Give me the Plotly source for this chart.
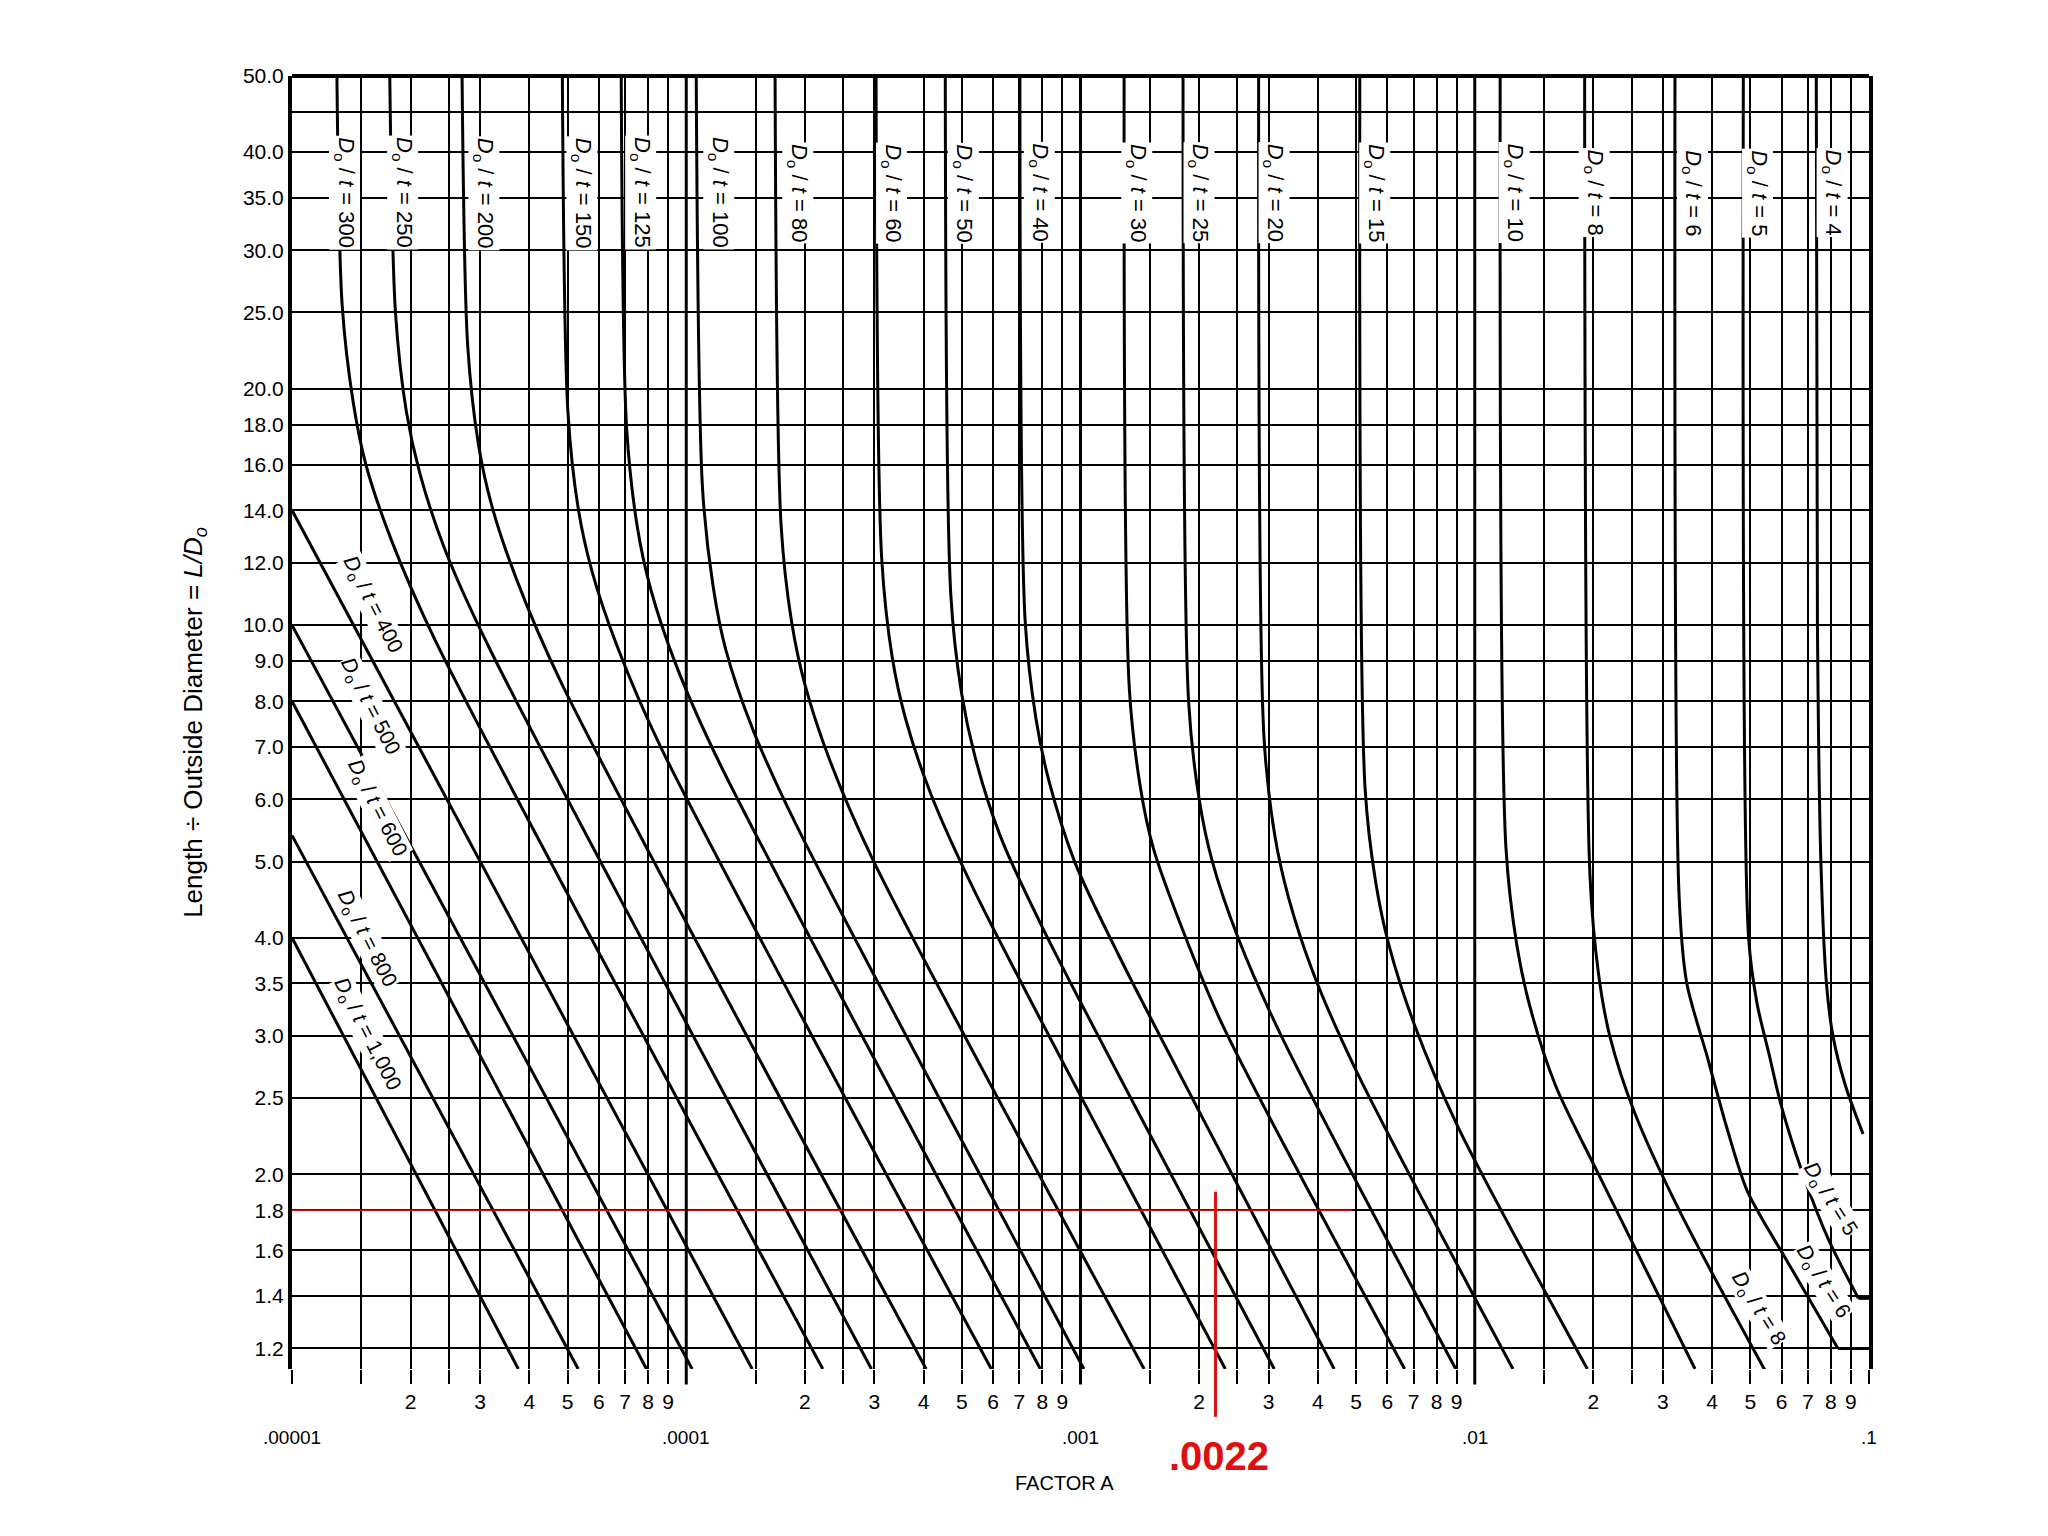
import math

import plotly.graph_objects as go

# ---- curve data: Factor A vs L/Do for each Do/t ----
a_300 = [1.30e-5, 1.34e-5, 1.43e-5, 1.54e-5, 1.79e-5, 2.30e-5, 2.22e-4]
ld_300 = [50, 25.6, 19.2, 16.0, 12.8, 9.6, 1.13]
a_250 = [1.77e-5, 1.83e-5, 1.95e-5, 2.11e-5, 2.44e-5, 3.15e-5, 2.95e-4]
ld_250 = [50, 25.0, 18.7, 15.6, 12.5, 9.4, 1.13]
a_200 = [2.70e-5, 2.79e-5, 2.97e-5, 3.21e-5, 3.72e-5, 4.79e-5, 4.06e-4]
ld_200 = [50, 22.7, 17.0, 14.2, 11.4, 8.5, 1.13]
a_150 = [4.85e-5, 5.01e-5, 5.33e-5, 5.77e-5, 6.68e-5, 8.61e-5, 5.94e-4]
ld_150 = [50, 18.7, 14.0, 11.7, 9.4, 7.0, 1.13]
a_125 = [6.84e-5, 7.06e-5, 7.52e-5, 8.13e-5, 9.42e-5, 1.21e-4, 7.91e-4]
ld_125 = [50, 17.8, 13.3, 11.1, 8.9, 6.7, 1.13]
a_100 = [1.06e-4, 1.10e-4, 1.17e-4, 1.26e-4, 1.47e-4, 1.89e-4, 1.02e-3]
ld_100 = [50, 14.9, 11.2, 9.3, 7.4, 5.6, 1.13]
a_80 = [1.68e-4, 1.74e-4, 1.85e-4, 2.00e-4, 2.32e-4, 2.99e-4, 1.45e-3]
ld_80 = [50, 13.4, 10.1, 8.4, 6.7, 5.0, 1.13]
a_60 = [3.03e-4, 3.13e-4, 3.33e-4, 3.60e-4, 4.17e-4, 5.37e-4, 2.33e-3]
ld_60 = [50, 12.2, 9.1, 7.6, 6.1, 4.6, 1.13]
a_50 = [4.54e-4, 4.69e-4, 4.99e-4, 5.40e-4, 6.25e-4, 8.05e-4, 3.10e-3]
ld_50 = [50, 10.9, 8.2, 6.8, 5.4, 4.1, 1.13]
a_40 = [7.02e-4, 7.24e-4, 7.71e-4, 8.34e-4, 9.66e-4, 1.25e-3, 4.40e-3]
ld_40 = [50, 10.1, 7.6, 6.3, 5.0, 3.8, 1.13]
a_30 = [1.29e-3, 1.33e-3, 1.42e-3, 1.53e-3, 1.78e-3, 2.29e-3, 6.64e-3]
ld_30 = [50, 8.3, 6.2, 5.2, 4.2, 3.1, 1.13]
a_25 = [1.82e-3, 1.88e-3, 2.00e-3, 2.16e-3, 2.51e-3, 3.23e-3, 8.95e-3]
ld_25 = [50, 8.0, 6.0, 5.0, 4.0, 3.0, 1.13]
a_20 = [2.83e-3, 2.92e-3, 3.11e-3, 3.37e-3, 3.90e-3, 5.02e-3, 1.25e-2]
ld_20 = [50, 7.2, 5.4, 4.5, 3.6, 2.7, 1.13]
a_15 = [5.11e-3, 5.27e-3, 5.61e-3, 6.07e-3, 7.03e-3, 9.06e-3, 1.93e-2]
ld_15 = [50, 6.2, 4.7, 3.9, 3.1, 2.3, 1.13]
a_10 = [1.16e-2, 1.20e-2, 1.28e-2, 1.38e-2, 1.60e-2, 2.06e-2, 3.62e-2]
ld_10 = [50, 5.2, 3.9, 3.27, 2.6, 2.0, 1.13]
a_8 = [0.0190, 0.0196, 0.0206, 0.0220, 0.0254, 0.0330, 0.0553]
ld_8 = [50, 4.8, 3.6, 3.0, 2.4, 1.8, 1.11]
a_6 = [0.0322, 0.0330, 0.0345, 0.0389, 0.0435, 0.0492, 0.0620, 0.0834]
ld_6 = [50, 4.5, 3.5, 2.82, 2.3, 1.90, 1.55, 1.20]
a_5 = [0.0480, 0.0495, 0.0520, 0.0560, 0.0597, 0.0680, 0.0790, 0.0940]
ld_5 = [50, 4.0, 3.3, 2.82, 2.46, 2.0, 1.65, 1.39]
a_4 = [0.0735, 0.0740, 0.0755, 0.0780, 0.0810, 0.0870, 0.0966]
ld_4 = [50, 10, 5.0, 3.5, 3.0, 2.6, 2.25]
# short flat tails of Do/t = 6 and 5 running into the right edge
a_tail_6 = [0.0834, 0.100]
ld_tail_6 = [1.20, 1.20]
a_tail_5 = [0.0940, 0.100]
ld_tail_5 = [1.39, 1.39]
# thin-wall lines entering from the left edge
a_400 = [1e-5, 1.47e-4]
ld_400 = [14.0, 1.13]
a_500 = [1e-5, 1.035e-4]
ld_500 = [10.0, 1.13]
a_600 = [1e-5, 7.93e-5]
ld_600 = [8.0, 1.13]
a_800 = [1e-5, 5.32e-5]
ld_800 = [5.4, 1.13]
a_1000 = [1e-5, 3.75e-5]
ld_1000 = [4.0, 1.13]

curves = [(a_300, ld_300), (a_250, ld_250), (a_200, ld_200), (a_150, ld_150),
          (a_125, ld_125), (a_100, ld_100), (a_80, ld_80), (a_60, ld_60),
          (a_50, ld_50), (a_40, ld_40), (a_30, ld_30), (a_25, ld_25),
          (a_20, ld_20), (a_15, ld_15), (a_10, ld_10), (a_8, ld_8),
          (a_6, ld_6), (a_5, ld_5), (a_4, ld_4)]
lines = [(a_400, ld_400), (a_500, ld_500), (a_600, ld_600), (a_800, ld_800), (a_1000, ld_1000),
         (a_tail_6, ld_tail_6), (a_tail_5, ld_tail_5)]

# label positions (Factor A) of the vertical labels
top_ratios = ['300', '250', '200', '150', '125', '100', '80', '60', '50', '40',
              '30', '25', '20', '15', '10', '8', '6', '5', '4']
top_label_a = [1.36e-5, 1.91e-5, 3.07e-5, 5.44e-5, 7.67e-5, 1.21e-4, 1.92e-4, 3.32e-4,
               5.05e-4, 7.87e-4, 1.39e-3, 2.0e-3, 3.10e-3, 5.58e-3, 1.26e-2, 2.01e-2,
               3.57e-2, 5.22e-2, 8.07e-2]
slope_ratios = ['400', '500', '600', '800', '1,000', '5', '6', '8']
slope_label_a = [1.60e-5, 1.58e-5, 1.64e-5, 1.55e-5, 1.55e-5, 0.0796, 0.0766, 0.0522]
slope_label_ld = [10.6, 7.87, 5.85, 3.99, 3.02, 1.86, 1.46, 1.35]

y_grid = [1.2, 1.4, 1.6, 1.8, 2.0, 2.5, 3.0, 3.5, 4.0, 5.0, 6.0, 7.0, 8.0, 9.0, 10.0,
          12.0, 14.0, 16.0, 18.0, 20.0, 25.0, 30.0, 35.0, 40.0, 45.0, 50.0]
x_steps = [1, 1.5, 2, 2.5, 3, 4, 5, 6, 7, 8, 9]
decades = [1e-5, 1e-4, 1e-3, 1e-2, 1e-1]
decade_text = ['.00001', '.0001', '.001', '.01', '.1']

example_a = 0.0022
example_ld = 1.8

FONT = 'Liberation Sans, Arial, sans-serif'

fig = go.Figure()
for a, ld in curves:
    fig.add_trace(go.Scatter(x=a, y=ld, mode='lines', line=dict(color='black', width=3, shape='spline', smoothing=0.8),
                             hoverinfo='skip', showlegend=False))
for a, ld in lines:
    fig.add_trace(go.Scatter(x=a, y=ld, mode='lines', line=dict(color='black', width=3),
                             hoverinfo='skip', showlegend=False))

# red example lines
fig.add_trace(go.Scatter(x=[1e-5, 0.0049], y=[example_ld, example_ld], mode='lines',
                         line=dict(color='#d01010', width=1.5), hoverinfo='skip', showlegend=False))
fig.add_shape(type='line', xref='x', yref='paper', x0=example_a, x1=example_a, y0=-0.037,
              y1=(math.log10(1.9) - math.log10(1.13)) / (math.log10(50) - math.log10(1.13)),
              line=dict(color='#e01010', width=3))

label = '<i>D</i><sub>o</sub> / <i>t</i> = '
for r, a in zip(top_ratios, top_label_a):
    fig.add_annotation(x=math.log10(a), y=math.log10(35.5), text=label + r, textangle=90, showarrow=False,
                       font=dict(family=FONT, size=22, color='black'), bgcolor='white', borderpad=1)
for i, (r, a, ld) in enumerate(zip(slope_ratios, slope_label_a, slope_label_ld)):
    fig.add_annotation(x=math.log10(a), y=math.log10(ld), text=label + r, textangle=63 if i < 5 else 58,
                       showarrow=False, font=dict(family=FONT, size=21, color='black'), bgcolor='white', borderpad=0)

# decade labels and titles
for d, t in zip(decades, decade_text):
    fig.add_annotation(x=math.log10(d), y=-0.053, yref='paper', yanchor='middle', text=t, showarrow=False,
                       font=dict(family=FONT, size=19, color='black'))
fig.add_annotation(x=math.log10(example_a) + 0.01, y=-0.067, yref='paper', yanchor='middle', text='<b>.0022</b>',
                   showarrow=False, font=dict(family=FONT, size=40, color='#e01010'))
fig.add_annotation(x=0.49, y=-0.088, xref='paper', yref='paper', yanchor='middle', text='FACTOR A',
                   showarrow=False, font=dict(family=FONT, size=20, color='black'))

# decade grid lines and the 10.0 line drawn heavier, top border
for d in decades[1:-1]:
    fig.add_shape(type='line', xref='x', yref='paper', x0=d, x1=d, y0=-0.012, y1=1,
                  line=dict(color='black', width=3))
fig.add_shape(type='line', xref='paper', yref='y', x0=0, x1=1, y0=math.log10(10), y1=math.log10(10),
              line=dict(color='black', width=3))
fig.add_shape(type='line', xref='paper', yref='paper', x0=0, x1=1, y0=1, y1=1,
              line=dict(color='black', width=4))

x_ticks = [d * s for d in decades[:-1] for s in x_steps] + [0.1]
x_text = ['' if s in (1, 1.5, 2.5) else str(s) for d in decades[:-1] for s in x_steps] + ['']

fig.update_xaxes(type='log', range=[-5, -1], tickvals=x_ticks, ticktext=x_text, showgrid=True,
                 gridcolor='black', gridwidth=1.7, ticks='outside', ticklen=14, tickcolor='black', tickwidth=1.7,
                 ticklabelstandoff=0, tickfont=dict(family=FONT, size=21, color='black'),
                 showline=False, zeroline=False)
fig.update_yaxes(type='log', range=[math.log10(1.13), math.log10(50)], tickvals=y_grid,
                 ticktext=['' if v == 45 else '%.1f' % v for v in y_grid], showgrid=True, gridcolor='black',
                 gridwidth=1.8, ticks='', tickfont=dict(family=FONT, size=21, color='black'),
                 showline=True, mirror=True, linecolor='black', linewidth=4, zeroline=False,
                 title=dict(text='Length ÷ Outside Diameter = <i>L/D<sub>o</sub></i>', standoff=34,
                            font=dict(family=FONT, size=26, color='black')))

fig.update_layout(width=2048, height=1536, margin=dict(l=284, r=187, t=68, b=175),
                  plot_bgcolor='white', paper_bgcolor='white')

fig.write_html("out.html")
